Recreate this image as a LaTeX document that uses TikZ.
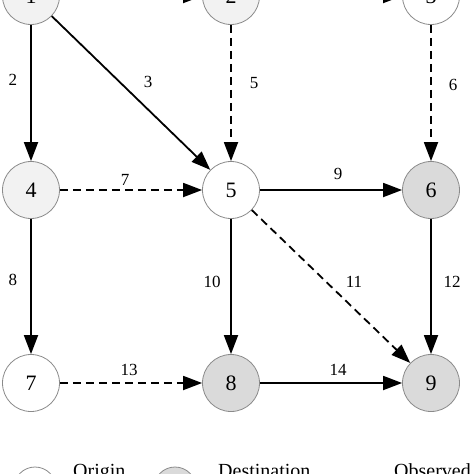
\documentclass[tikz,border=0pt]{standalone}
\usepackage{fontspec}
\setmainfont{Liberation Serif}
\usetikzlibrary{arrows.meta}
\definecolor{lightfill}{HTML}{F2F2F2}
\definecolor{darkfill}{HTML}{DADADA}
\definecolor{rimcol}{HTML}{8A8A8A}
\tikzset{
  nd/.style={circle, draw=rimcol, line width=0.8pt, minimum size=57pt, inner sep=0pt, font=\fontsize{22}{24}\selectfont},
  ndwhite/.style={nd, fill=white},
  ndlight/.style={nd, fill=lightfill},
  nddark/.style={nd, fill=darkfill},
  lnk/.style={line width=1.8pt, -{Triangle[length=19pt,width=14pt]}},
  dlnk/.style={lnk, dash pattern=on 8pt off 5pt},
  lab/.style={font=\fontsize{17}{19}\selectfont, inner sep=0pt},
  legc/.style={circle, draw=rimcol, line width=0.8pt, minimum size=42pt, inner sep=0pt},
  legt/.style={font=\fontsize{20}{22}\selectfont, anchor=base west, inner sep=0pt}
}
\begin{document}
\begin{tikzpicture}[x=1pt,y=-1pt]
\useasboundingbox (0,0) rectangle (474,474);
\fill[white] (0,0) rectangle (474,474);
\node[ndlight] (n1) at (31,-4) {1};
\node[ndlight] (n2) at (231,-4) {2};
\node[ndwhite] (n3) at (431,-4) {3};
\node[ndlight] (n4) at (31,190) {4};
\node[ndwhite] (n5) at (231,190) {5};
\node[nddark] (n6) at (431,190) {6};
\node[ndwhite] (n7) at (31,383) {7};
\node[nddark] (n8) at (231,383) {8};
\node[nddark] (n9) at (431,383) {9};

\draw[lnk] (n1) -- (n2);
\draw[lnk] (n2) -- (n3);
\draw[lnk] (n1) -- (n4);
\draw[lnk] (n1) -- (n5);
\draw[dlnk] (n2) -- (n5);
\draw[dlnk] (n3) -- (n6);
\draw[dlnk] (n4) -- (n5);
\draw[lnk] (n5) -- (n6);
\draw[lnk] (n4) -- (n7);
\draw[lnk] (n5) -- (n8);
\draw[dlnk] (n5) -- (n9);
\draw[lnk] (n6) -- (n9);
\draw[dlnk] (n7) -- (n8);
\draw[lnk] (n8) -- (n9);

\node[lab] (l2) at (13,80) {2};
\node[lab] (l3) at (148,82) {3};
\node[lab] (l5) at (254,83) {5};
\node[lab] (l6) at (453,85) {6};
\node[lab] (l7) at (125,180) {7};
\node[lab] (l9) at (338,174) {9};
\node[lab] (l8) at (13,280) {8};
\node[lab] (l10) at (212,282) {10};
\node[lab] (l11) at (354,282) {11};
\node[lab] (l12) at (452,282) {12};
\node[lab] (l13) at (129,370) {13};
\node[lab] (l14) at (338,370) {14};

\node[legc, fill=white] (lg1) at (35,488) {};
\node[legt] (lt1) at (73,477) {Origin};
\node[legc, fill=darkfill] (lg2) at (175,488) {};
\node[legt] (lt2) at (218,477) {Destination};
\node[legt] (lt3) at (394,477) {Observed};
\end{tikzpicture}
\end{document}
